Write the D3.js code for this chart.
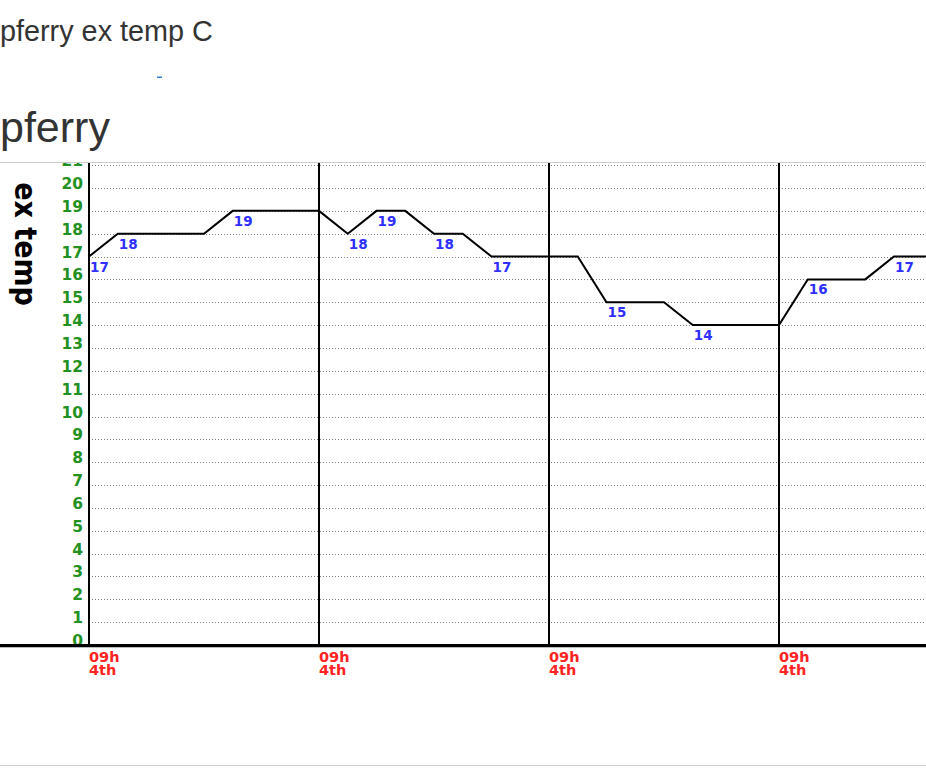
<!DOCTYPE html>
<html>
<head>
<meta charset="utf-8">
<script src="https://cdn.jsdelivr.net/npm/d3@7"></script>
<style>
  html, body { margin: 0; padding: 0; background: #fff; overflow: hidden; }
  svg { display: block; }
</style>
</head>
<body>
<div id="chart"></div>
<script>
const width = 926;
const height = 772;

// 3-hourly readings, one step = 3h
const temps = [17, 18, 18, 18, 18, 19, 19, 19, 19, 18, 19, 19, 18, 18, 17, 17,
               17, 17, 15, 15, 15, 14, 14, 14, 14, 16, 16, 16, 17, 17, 17];
const dayTicks = [0, 8, 16, 24];
const dayHour = ["09h", "09h", "09h", "09h"];
const dayDate = ["4th", "4th", "4th", "4th"];
const yTicks = d3.range(0, 22);

const pageTitle = "pferry ex temp C";
const chartTitle = "pferry";
const yTitle = "ex temp";

const plotLeft = 89;
const plotTop = 162;
const plotBottom = 645;

const x = d3.scaleLinear().domain([0, 8]).range([plotLeft, plotLeft + 230]);
const y = d3.scaleLinear().domain([0, 21]).range([plotBottom, plotBottom - 21 * 22.85]);

const svg = d3.select("#chart")
  .append("svg")
  .attr("width", width)
  .attr("height", height);

// headings
svg.append("text")
  .attr("x", 0)
  .attr("y", 40.5)
  .style("font-family", "'Liberation Sans', Arial, sans-serif")
  .style("font-size", "28.8px")
  .style("fill", "#333")
  .text(pageTitle);

svg.append("rect")
  .attr("x", 157)
  .attr("y", 76.5)
  .attr("width", 5)
  .attr("height", 1.5)
  .style("fill", "#2a7fd4");

svg.append("text")
  .attr("x", 0)
  .attr("y", 142)
  .style("font-family", "'Liberation Sans', Arial, sans-serif")
  .style("font-size", "43px")
  .style("fill", "#333")
  .text(chartTitle);

svg.append("line")
  .attr("x1", 0).attr("x2", width)
  .attr("y1", plotTop + 0.5).attr("y2", plotTop + 0.5)
  .style("stroke", "#ccc");

svg.append("line")
  .attr("x1", 0).attr("x2", width)
  .attr("y1", 765.5).attr("y2", 765.5)
  .style("stroke", "#d0d0d0");

// plot area, clipped at the top border
svg.append("defs").append("clipPath")
  .attr("id", "plotclip")
  .append("rect")
  .attr("x", 0).attr("y", plotTop + 1)
  .attr("width", width).attr("height", height - plotTop);

const plot = svg.append("g").attr("clip-path", "url(#plotclip)");

plot.selectAll(".grid")
  .data(yTicks.filter(d => d > 0))
  .join("line")
  .attr("class", "grid")
  .attr("x1", plotLeft + 3).attr("x2", width)
  .attr("y1", d => Math.round(y(d)) + 0.5)
  .attr("y2", d => Math.round(y(d)) + 0.5)
  .style("stroke", "#808080")
  .style("stroke-dasharray", "1,2");

plot.selectAll(".ylab")
  .data(yTicks)
  .join("text")
  .attr("class", "ylab")
  .attr("x", 83)
  .attr("y", d => y(d) + 1)
  .attr("text-anchor", "end")
  .style("font-family", "'DejaVu Sans', Verdana, sans-serif")
  .style("font-weight", "bold")
  .style("font-size", "15.5px")
  .style("fill", "#229122")
  .text(d => d);

plot.selectAll(".day")
  .data(dayTicks)
  .join("line")
  .attr("class", "day")
  .attr("x1", d => x(d)).attr("x2", d => x(d))
  .attr("y1", plotTop).attr("y2", plotBottom)
  .style("stroke", "#000")
  .style("stroke-width", 2);

const line = d3.line()
  .x((d, i) => x(i))
  .y(d => y(d));

plot.append("path")
  .datum(temps)
  .attr("d", line)
  .style("fill", "none")
  .style("stroke", "#000")
  .style("stroke-width", 2);

// value labels where the reading changes
const changes = temps
  .map((v, i) => ({ v, i }))
  .filter(d => d.i === 0 || temps[d.i] !== temps[d.i - 1]);

plot.selectAll(".vlab")
  .data(changes)
  .join("text")
  .attr("class", "vlab")
  .attr("x", d => x(d.i) + 1)
  .attr("y", d => y(d.v) + 15)
  .style("font-family", "'DejaVu Sans', Verdana, sans-serif")
  .style("font-weight", "bold")
  .style("font-size", "13.5px")
  .style("fill", "#2f2fff")
  .text(d => d.v);

// axis lines
svg.append("line")
  .attr("x1", 0).attr("x2", width)
  .attr("y1", plotBottom + 0.5).attr("y2", plotBottom + 0.5)
  .style("stroke", "#000")
  .style("stroke-width", 3);

svg.append("line")
  .attr("x1", 0).attr("x2", width)
  .attr("y1", plotBottom + 2.5).attr("y2", plotBottom + 2.5)
  .style("stroke", "#bbb");

// x labels
const xl = svg.selectAll(".xlab")
  .data(dayTicks)
  .join("text")
  .attr("class", "xlab")
  .attr("x", d => x(d))
  .attr("y", 662)
  .style("font-family", "'DejaVu Sans', Verdana, sans-serif")
  .style("font-weight", "bold")
  .style("font-size", "14.5px")
  .style("fill", "#ff2323");

xl.append("tspan")
  .attr("x", d => x(d))
  .text((d, i) => dayHour[i]);

xl.append("tspan")
  .attr("x", d => x(d))
  .attr("dy", 12.5)
  .text((d, i) => dayDate[i]);

// y axis title
svg.append("text")
  .attr("transform", "translate(15,244) rotate(90)")
  .attr("text-anchor", "middle")
  .style("font-family", "'DejaVu Sans Condensed', 'DejaVu Sans', sans-serif")
  .style("font-stretch", "condensed")
  .style("font-weight", "bold")
  .style("font-size", "30px")
  .style("fill", "#000")
  .text(yTitle);
</script>
</body>
</html>
